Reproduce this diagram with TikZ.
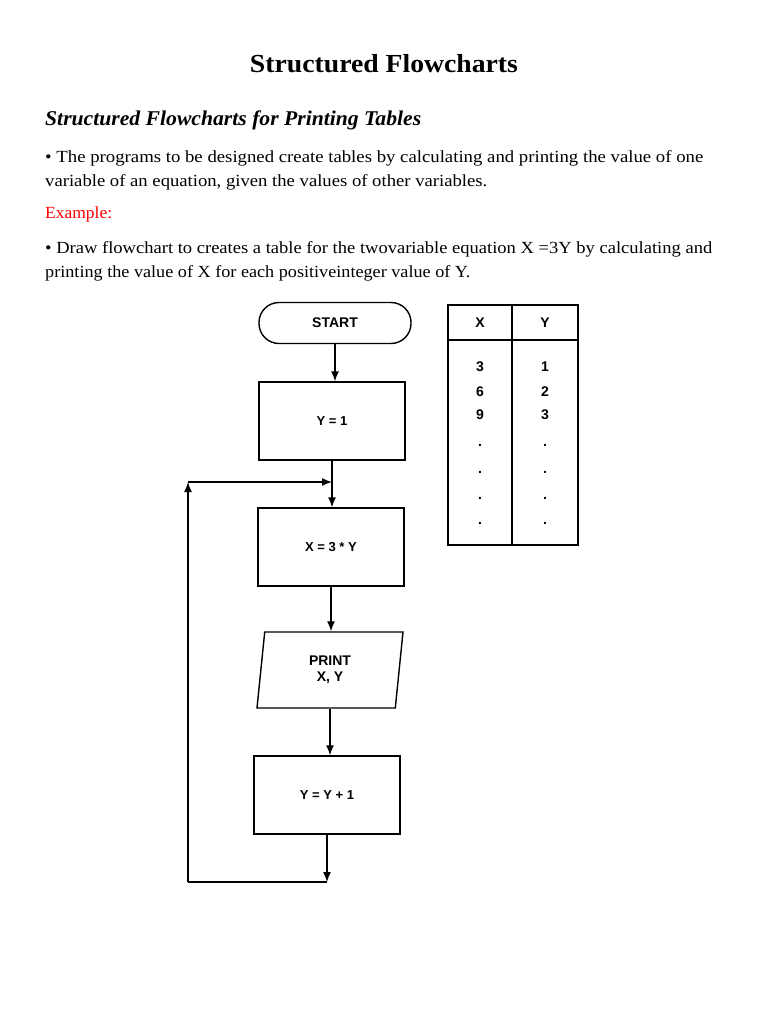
\documentclass[tikz,border=0pt]{standalone}
\usepackage{fontspec}
\setmainfont{Liberation Serif}
\newfontfamily\fcsans{Liberation Sans}
\usetikzlibrary{arrows.meta,shapes.geometric}
\newcommand\fitw[2]{\resizebox{#1}{\height}{#2}}
\begin{document}
\begin{tikzpicture}[x=1pt,y=-1pt,
  fc/.style={draw=black,line width=1.4pt,font=\fcsans\bfseries\fontsize{13}{15}\selectfont,align=center,inner sep=0pt},
  boxn/.style={fc,rectangle,minimum width=146pt,minimum height=78pt},
  arr/.style={line width=1.4pt,-{Latex[length=10pt,width=8pt]}},
  ln/.style={line width=1.4pt},
  tl/.style={line width=1.2pt},
  body/.style={anchor=base west,inner sep=0pt,font=\fontsize{17}{20}\selectfont},
  tc/.style={font=\fcsans\bfseries\fontsize{14}{16}\selectfont,inner sep=0pt}
]
\useasboundingbox[fill=white] (0,0) rectangle (768,1024);

% heading texts
\node[anchor=base,inner sep=0pt,font=\bfseries\fontsize{26}{30}\selectfont] (title) at (384,73) {\fitw{268pt}{Structured Flowcharts}};
\node[anchor=base west,inner sep=0pt,font=\bfseries\itshape\fontsize{21}{25}\selectfont] (sub) at (45,126) {\fitw{376pt}{Structured Flowcharts for Printing Tables}};
\node[body] (l1) at (45,163) {\fitw{658pt}{\textbullet\ The programs to be designed create tables by calculating and printing the value of one}};
\node[body] (l2) at (45,187) {\fitw{442pt}{variable of an equation, given the values of other variables.}};
\node[body,text=red] (ex) at (45,219) {\fitw{67pt}{Example:}};
\node[body] (l3) at (45,253) {\fitw{667pt}{\textbullet\ Draw flowchart to creates a table for the twovariable equation X =3Y by calculating and}};
\node[body] (l4) at (45,277) {\fitw{425pt}{printing the value of X for each positiveinteger value of Y.}};

% flowchart
\node[fc,rectangle,rounded corners=20pt,minimum width=152pt,minimum height=41pt,font=\fcsans\bfseries\fontsize{14}{16}\selectfont] (start) at (335,323) {START};
\node[boxn] (y1) at (332,421) {Y = 1};
\node[boxn] (x3) at (331,547) {X = 3 * Y};
\node[fc,trapezium,trapezium left angle=74.5,trapezium right angle=105.5,trapezium stretches body,minimum width=146pt,minimum height=76pt,font=\fcsans\bfseries\fontsize{14}{16}\selectfont] (print) at (330,670) {PRINT\\X, Y};
\node[boxn] (yy) at (327,795) {Y = Y + 1};

\coordinate (merge) at (334,482);
\coordinate (bot) at (326,882);
\coordinate (bl) at (188,882);
\coordinate (tl) at (188,482);

\draw[arr] (start.south) -- (start.south |- y1.north);
\draw[ln] (y1.south) -- (y1.south |- merge);
\draw[arr] (y1.south |- merge) -- (y1.south |- x3.north);
\draw[arr] (x3.south) -- (x3.south |- print.north);
\draw[arr] (print.south) -- (print.south |- yy.north);
\draw[arr] (yy.south) -- (yy.south |- bot);
\draw[ln] (yy.south |- bot) -- (bl);
\draw[arr] (bl) -- (tl);
\draw[arr] (tl) -- (y1.south |- merge);

% table
\coordinate (t1) at (448,305);
\coordinate (t2) at (578,545);
\draw[tl] (t1) rectangle (t2);
\draw[tl] (448,340) -- (578,340);
\draw[tl] (512,305) -- (512,545);
\node[tc] (hx) at (480,323) {X};
\node[tc] (hy) at (545,323) {Y};
\node[tc] (x1) at (480,367) {3};
\node[tc] (y1v) at (545,367) {1};
\node[tc] (x2) at (480,392) {6};
\node[tc] (y2v) at (545,392) {2};
\node[tc] (x3v) at (480,415) {9};
\node[tc] (y3v) at (545,415) {3};
\node[tc] (d1) at (480,445) {.};
\node[tc] (e1) at (545,445) {.};
\node[tc] (d2) at (480,472) {.};
\node[tc] (e2) at (545,472) {.};
\node[tc] (d3) at (480,498) {.};
\node[tc] (e3) at (545,498) {.};
\node[tc] (d4) at (480,523) {.};
\node[tc] (e4) at (545,523) {.};
\end{tikzpicture}
\end{document}
